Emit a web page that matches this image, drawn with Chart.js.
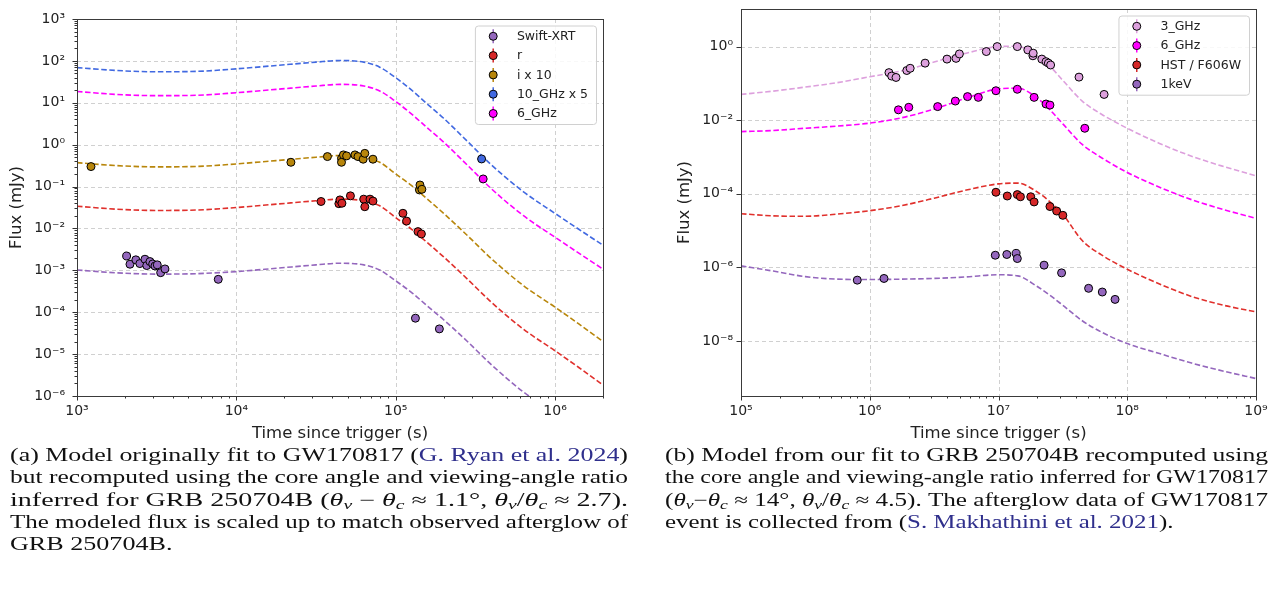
<!DOCTYPE html>
<html>
<head>
<meta charset="utf-8">
<script src="https://cdn.jsdelivr.net/npm/chart.js@4.4.1/dist/chart.umd.min.js"></script>
<style>
    html, body { margin: 0; padding: 0; background: #fff; }
    body { width: 1278px; height: 598px; position: relative; overflow: hidden; }
    #graficoIzq { position: absolute; left: 0; top: 0; }
    #graficoDer { position: absolute; left: 640px; top: 0; }
    .caption { position: absolute; top: 444px; font-family: 'Liberation Serif', serif; font-size: 18px; line-height: 22.3px; color: #111; }
    .caption .l { width: max-content; white-space: nowrap; transform-origin: 0 0; }
    .cite { color: #2f2f8c; }
    sub { font-size: 70%; vertical-align: -0.22em; line-height: 0; }
</style>
</head>
<body>
<canvas id="graficoIzq" width="640" height="450"></canvas>
<canvas id="graficoDer" width="638" height="450"></canvas>

<div class="caption" style="left:10px" data-ancho="618">
    <div class="l">(a) Model originally fit to GW170817 (<span class="cite">G. Ryan et al. 2024</span>)</div>
    <div class="l">but recomputed using the core angle and viewing-angle ratio</div>
    <div class="l">inferred for GRB 250704B (<i>θ</i><sub><i>v</i></sub> − <i>θ</i><sub><i>c</i></sub> ≈ 1.1°, <i>θ</i><sub><i>v</i></sub>/<i>θ</i><sub><i>c</i></sub> ≈ 2.7).</div>
    <div class="l">The modeled flux is scaled up to match observed afterglow of</div>
    <div class="l last">GRB 250704B.</div>
</div>
<div class="caption" style="left:665px" data-ancho="603">
    <div class="l">(b) Model from our fit to GRB 250704B recomputed using</div>
    <div class="l">the core angle and viewing-angle ratio inferred for GW170817</div>
    <div class="l">(<i>θ</i><sub><i>v</i></sub>−<i>θ</i><sub><i>c</i></sub> ≈ 14°, <i>θ</i><sub><i>v</i></sub>/<i>θ</i><sub><i>c</i></sub> ≈ 4.5). The afterglow data of GW170817</div>
    <div class="l last">event is collected from (<span class="cite">S. Makhathini et al. 2021</span>).</div>
</div>

<script>
// ---- Panel (a): modelo de GW170817 escalado a GRB 250704B ----
const tiempoModeloIzq = [1e3, 1.78e3, 3.16e3, 5.62e3, 1e4, 1.78e4, 3.16e4, 4.47e4, 6.31e4, 7.94e4,
                         1e5, 1.26e5, 1.58e5, 2e5, 2.82e5, 3.98e5, 6.31e5, 1e6, 1.41e6, 2e6];
const modeloXrt = [1.02e-3, 8.71e-4, 8.13e-4, 8.32e-4, 9.33e-4, 1.12e-3, 1.35e-3, 1.48e-3, 1.35e-3, 1.02e-3,
                   5.62e-4, 2.95e-4, 1.41e-4, 6.61e-5, 2.0e-5, 5.62e-6, 1.26e-6, 3.8e-7, 1.51e-7, 5.75e-8];
const modeloR = [0.0339, 0.0288, 0.0269, 0.0275, 0.0316, 0.0380, 0.0457, 0.0501, 0.0457, 0.0347,
                 0.0182, 0.00955, 0.00457, 0.00209, 6.17e-4, 1.74e-4, 3.98e-5, 1.20e-5, 4.79e-6, 1.82e-6];
const modeloI = [0.372, 0.316, 0.295, 0.302, 0.347, 0.417, 0.501, 0.550, 0.501, 0.380,
                 0.200, 0.105, 0.0501, 0.0229, 0.00676, 0.00191, 4.37e-4, 1.32e-4, 5.25e-5, 2.0e-5];
const modelo10GHz = [69.2, 58.9, 55.0, 56.2, 64.6, 77.6, 93.3, 102, 93.3, 70.8,
                     39.8, 20.0, 9.33, 4.27, 1.20, 0.331, 0.0759, 0.0229, 0.00955, 0.00398];
const modelo6GHzIzq = [18.6, 15.8, 14.8, 15.1, 17.4, 20.9, 25.1, 27.5, 25.1, 19.1,
                       10.7, 5.37, 2.51, 1.15, 0.324, 0.0891, 0.0204, 0.00617, 0.00257, 0.00107];

// Observaciones de GRB 250704B
const xrtT = [2050, 2150, 2340, 2480, 2670, 2740, 2870, 2985, 3085, 3190, 3350, 3565, 7700, 1.33e5, 1.88e5];
const xrtF = [2.2e-3, 1.4e-3, 1.78e-3, 1.45e-3, 1.84e-3, 1.3e-3, 1.62e-3, 1.42e-3, 1.27e-3, 1.35e-3, 8.8e-4, 1.08e-3, 6.1e-4, 7.2e-5, 4.0e-5];
const rT = [3.4e4, 4.4e4, 4.47e4, 4.6e4, 5.2e4, 6.3e4, 6.4e4, 6.9e4, 7.2e4, 1.11e5, 1.17e5, 1.38e5, 1.45e5];
const rF = [4.4e-2, 3.9e-2, 4.8e-2, 4.0e-2, 6.0e-2, 5.0e-2, 3.3e-2, 5.0e-2, 4.5e-2, 2.3e-2, 1.5e-2, 8.4e-3, 7.4e-3];
const iT = [1224, 2.2e4, 3.73e4, 4.57e4, 4.57e4, 4.7e4, 4.92e4, 5.55e4, 5.8e4, 6.25e4, 6.4e4, 7.2e4, 1.41e5, 1.42e5, 1.46e5];
const iF = [0.30, 0.38, 0.52, 0.47, 0.38, 0.57, 0.54, 0.57, 0.52, 0.45, 0.62, 0.45, 0.083, 0.109, 0.086];
const ghz10T = [3.46e5];
const ghz10F = [0.456];
const ghz6IzqT = [3.54e5];
const ghz6IzqF = [0.152];

// ---- Panel (b): modelo de GRB 250704B con geometría de GW170817 ----
const tiempoModeloDer = [1e5, 1.78e5, 3.16e5, 5.62e5, 1e6, 1.78e6, 3.16e6, 5.62e6, 1e7, 1.41e7,
                         2e7, 2.51e7, 3.16e7, 4.47e7, 6.31e7, 1e8, 1.78e8, 3.16e8, 5.62e8, 1e9];
const modelo3GHz = [0.0501, 0.0617, 0.0794, 0.105, 0.151, 0.219, 0.380, 0.661, 1.0, 1.02,
                    0.525, 0.288, 0.120, 0.0331, 0.0145, 0.00603, 0.00234, 0.00105, 5.5e-4, 3.09e-4];
const modelo6GHzDer = [0.0049, 0.00525, 0.00603, 0.00692, 0.00832, 0.0117, 0.0200, 0.0398, 0.0708, 0.0741,
                       0.0398, 0.0191, 0.00794, 0.00219, 9.55e-4, 3.8e-4, 1.51e-4, 6.92e-5, 3.72e-5, 2.14e-5];
const modeloHst = [2.88e-5, 2.51e-5, 2.45e-5, 2.82e-5, 3.47e-5, 4.79e-5, 7.59e-5, 1.26e-4, 1.86e-4, 1.95e-4,
                   1.12e-4, 6.03e-5, 2.75e-5, 5.37e-6, 2.19e-6, 8.91e-7, 3.55e-7, 1.62e-7, 9.33e-8, 6.17e-8];
const modelo1keV = [1.1e-6, 7.94e-7, 5.62e-7, 4.79e-7, 4.68e-7, 4.79e-7, 5.01e-7, 5.5e-7, 6.31e-7, 5.89e-7,
                    3.02e-7, 1.74e-7, 9.33e-8, 3.55e-8, 1.74e-8, 8.51e-9, 4.57e-9, 2.51e-9, 1.51e-9, 9.55e-10];

// Observaciones de GW170817
const ghz3T = [1.41e6, 1.48e6, 1.60e6, 1.94e6, 2.06e6, 2.69e6, 3.98e6, 4.68e6, 4.97e6, 8.04e6, 9.77e6,
               1.40e7, 1.69e7, 1.85e7, 1.86e7, 2.17e7, 2.34e7, 2.44e7, 2.54e7, 4.22e7, 6.61e7];
const ghz3F = [0.196, 0.158, 0.145, 0.224, 0.257, 0.355, 0.457, 0.479, 0.631, 0.733, 1.0,
               1.0, 0.813, 0.562, 0.661, 0.457, 0.389, 0.355, 0.316, 0.148, 0.0501];
const ghz6DerT = [1.67e6, 2.01e6, 3.37e6, 4.62e6, 5.75e6, 6.97e6, 9.55e6, 1.40e7, 1.89e7, 2.34e7, 2.51e7, 4.68e7];
const ghz6DerF = [0.0191, 0.0224, 0.0234, 0.0331, 0.0437, 0.0417, 0.0631, 0.0692, 0.0417, 0.0275, 0.0257, 0.00603];
const hstT = [9.55e6, 1.17e7, 1.40e7, 1.48e7, 1.78e7, 1.89e7, 2.51e7, 2.83e7, 3.16e7];
const hstF = [1.1e-4, 8.7e-5, 9.5e-5, 8.3e-5, 8.3e-5, 6.0e-5, 4.5e-5, 3.4e-5, 2.6e-5];
const kevT = [8.0e5, 1.29e6, 9.44e6, 1.16e7, 1.37e7, 1.40e7, 2.26e7, 3.09e7, 5.01e7, 6.4e7, 8.04e7];
const kevF = [4.5e-7, 5.0e-7, 2.14e-6, 2.24e-6, 2.4e-6, 1.74e-6, 1.15e-6, 7.1e-7, 2.7e-7, 2.14e-7, 1.35e-7];

// Marcas de los ejes
const ticksIzqX = [1e3, 1e4, 1e5, 1e6];
const ticksIzqY = [1e-6, 1e-5, 1e-4, 1e-3, 1e-2, 1e-1, 1e0, 1e1, 1e2, 1e3];
const ticksDerX = [1e5, 1e6, 1e7, 1e8, 1e9];
const ticksDerY = [1e-8, 1e-6, 1e-4, 1e-2, 1e0];

const COLORES = {
    morado: '#9467bd', rojo: '#d62728', dorado: '#b8860b',
    azul: '#4169e1', magenta: '#ff00ff', ciruela: '#dda0dd'
};

Chart.defaults.font.family = "'DejaVu Sans', sans-serif";
Chart.defaults.color = '#222';

const superindices = { '-': '⁻', '0': '⁰', '1': '¹', '2': '²', '3': '³', '4': '⁴', '5': '⁵', '6': '⁶', '7': '⁷', '8': '⁸', '9': '⁹' };

function etiquetaPotencia(valor) {
    const exp = Math.round(Math.log10(valor));
    if (Math.abs(Math.log10(valor) - exp) > 1e-6) return '';
    return '10' + String(exp).split('').map(c => superindices[c]).join('');
}

// Marcas menores 2..9 x 10^d dentro del rango
function marcasMenores(dIni, dFin, tope) {
    const lista = [];
    for (let d = dIni; d <= dFin; d++) {
        for (let m = 2; m <= 9; m++) {
            const v = m * Math.pow(10, d);
            if (v <= tope) lista.push(v);
        }
    }
    return lista;
}

function puntos(t, f) {
    return t.map((x, i) => ({ x: x, y: f[i] }));
}

function serieObs(etiqueta, t, f, color) {
    return {
        label: etiqueta,
        data: puntos(t, f),
        showLine: false,
        pointRadius: 4,
        pointHoverRadius: 4,
        pointBorderWidth: 1,
        pointBorderColor: '#000',
        pointBackgroundColor: color
    };
}

function serieModelo(t, f, color) {
    return {
        label: '',
        data: puntos(t, f),
        showLine: true,
        pointRadius: 0,
        borderColor: color,
        borderWidth: 1.6,
        borderDash: [5.5, 2.6],
        cubicInterpolationMode: 'monotone',
        fill: false
    };
}

// Rejilla discontinua, marcas y marco al estilo matplotlib
const ejesMatplotlib = {
    id: 'ejesMatplotlib',
    beforeDatasetsDraw(chart, args, opc) {
        const { ctx, chartArea: a } = chart;
        const x = chart.scales.x, y = chart.scales.y;
        ctx.save();
        ctx.beginPath();
        ctx.strokeStyle = 'rgba(190,190,190,0.8)';
        ctx.lineWidth = 0.9;
        ctx.setLineDash([4, 3]);
        opc.rejillaX.forEach(v => {
            const p = Math.round(x.getPixelForValue(v)) + 0.5;
            ctx.moveTo(p, a.top); ctx.lineTo(p, a.bottom);
        });
        opc.rejillaY.forEach(v => {
            const p = Math.round(y.getPixelForValue(v)) + 0.5;
            ctx.moveTo(a.left, p); ctx.lineTo(a.right, p);
        });
        ctx.stroke();
        ctx.restore();
    },
    afterDatasetsDraw(chart, args, opc) {
        const { ctx, chartArea: a } = chart;
        const x = chart.scales.x, y = chart.scales.y;
        ctx.save();
        ctx.setLineDash([]);
        ctx.strokeStyle = '#333';
        ctx.lineWidth = 1;
        ctx.beginPath();
        const marcaX = (v, largo) => {
            const p = Math.round(x.getPixelForValue(v)) + 0.5;
            ctx.moveTo(p, a.bottom); ctx.lineTo(p, a.bottom + largo);
        };
        const marcaY = (v, largo) => {
            const p = Math.round(y.getPixelForValue(v)) + 0.5;
            ctx.moveTo(a.left, p); ctx.lineTo(a.left - largo, p);
        };
        opc.mayoresX.forEach(v => marcaX(v, 4.5));
        opc.menoresX.forEach(v => marcaX(v, 2.5));
        opc.mayoresY.forEach(v => marcaY(v, 4.5));
        opc.menoresY.forEach(v => marcaY(v, 2.5));
        ctx.stroke();
        ctx.strokeStyle = '#3a3a3a';
        ctx.strokeRect(Math.round(a.left) + 0.5, Math.round(a.top) + 0.5,
                       Math.round(a.right - a.left), Math.round(a.bottom - a.top));
        ctx.restore();
    }
};

// Leyenda dentro del área del gráfico, arriba a la derecha
const leyendaInterna = {
    id: 'leyendaInterna',
    afterDraw(chart, args, opc) {
        const { ctx, chartArea: a } = chart;
        ctx.save();
        ctx.font = "12.5px 'DejaVu Sans'";
        const anchoTexto = Math.max(...opc.entradas.map(e => ctx.measureText(e.texto).width));
        const ancho = 42 + anchoTexto + 8;
        const alto = 2 + opc.entradas.length * 19.3;
        const x0 = a.right - 7 - ancho;
        const y0 = a.top + 6.5;
        ctx.beginPath();
        ctx.roundRect(x0 + 0.5, y0 + 0.5, ancho, alto, 3);
        ctx.fillStyle = 'rgba(255,255,255,0.85)';
        ctx.fill();
        ctx.strokeStyle = '#d0d0d0';
        ctx.lineWidth = 1;
        ctx.stroke();
        opc.entradas.forEach((e, i) => {
            const cy = y0 + 10.8 + i * 19.3;
            const cx = x0 + 18.3;
            ctx.beginPath();
            ctx.strokeStyle = e.color;
            ctx.lineWidth = 1.5;
            ctx.moveTo(cx, cy - 7); ctx.lineTo(cx, cy + 7);
            ctx.stroke();
            ctx.beginPath();
            ctx.arc(cx, cy, 4, 0, Math.PI * 2);
            ctx.fillStyle = e.color;
            ctx.fill();
            ctx.strokeStyle = '#000';
            ctx.lineWidth = 1;
            ctx.stroke();
            ctx.fillStyle = '#222';
            ctx.textBaseline = 'middle';
            ctx.fillText(e.texto, x0 + 42, cy + 0.5);
        });
        ctx.restore();
    }
};

function crearGrafico(idCanvas, conf) {
    const ctx = document.getElementById(idCanvas).getContext('2d');
    return new Chart(ctx, {
        type: 'scatter',
        data: { datasets: conf.series },
        options: {
            responsive: false,
            animation: false,
            layout: { padding: conf.relleno },
            plugins: {
                legend: { display: false },
                tooltip: { enabled: false },
                ejesMatplotlib: conf.ejes,
                leyendaInterna: { entradas: conf.leyenda }
            },
            scales: {
                x: {
                    type: 'logarithmic',
                    min: conf.xMin, max: conf.xMax,
                    grid: { display: false, drawTicks: false },
                    border: { display: false },
                    ticks: { autoSkip: false, maxRotation: 0, padding: 7, font: { size: 14 }, callback: etiquetaPotencia },
                    title: { display: true, text: 'Time since trigger (s)', font: { size: 16.5 }, padding: { top: 0, bottom: 6 } },
                    afterBuildTicks: s => { s.ticks = conf.ticksX.map(v => ({ value: v })); },
                    afterFit: s => { s.height = 54; s.paddingLeft = 0; s.paddingRight = 0; }
                },
                y: {
                    type: 'logarithmic',
                    min: conf.yMin, max: conf.yMax,
                    grid: { display: false, drawTicks: false },
                    border: { display: false },
                    ticks: { autoSkip: false, padding: conf.rellenoTicksY, font: { size: 14 }, callback: etiquetaPotencia },
                    title: { display: true, text: 'Flux (mJy)', font: { size: 16.5 }, padding: { top: conf.rellenoTituloY, bottom: 0 } },
                    afterBuildTicks: s => { s.ticks = conf.ticksY.map(v => ({ value: v })); },
                    afterFit: s => { s.width = conf.anchoEjeY; s.paddingTop = 0; s.paddingBottom = 0; }
                }
            }
        },
        plugins: [ejesMatplotlib, leyendaInterna]
    });
}

crearGrafico('graficoIzq', {
    series: [
        serieObs('Swift-XRT', xrtT, xrtF, COLORES.morado),
        serieObs('r', rT, rF, COLORES.rojo),
        serieObs('i x 10', iT, iF, COLORES.dorado),
        serieObs('10_GHz x 5', ghz10T, ghz10F, COLORES.azul),
        serieObs('6_GHz', ghz6IzqT, ghz6IzqF, COLORES.magenta),
        serieModelo(tiempoModeloIzq, modeloXrt, COLORES.morado),
        serieModelo(tiempoModeloIzq, modeloR, '#e0302c'),
        serieModelo(tiempoModeloIzq, modeloI, COLORES.dorado),
        serieModelo(tiempoModeloIzq, modelo10GHz, COLORES.azul),
        serieModelo(tiempoModeloIzq, modelo6GHzIzq, COLORES.magenta)
    ],
    relleno: { left: 0, top: 19, right: 37, bottom: 0 },
    xMin: 1e3, xMax: 2e6, yMin: 1e-6, yMax: 1e3,
    ticksX: ticksIzqX, ticksY: ticksIzqY,
    anchoEjeY: 77, rellenoTicksY: 12, rellenoTituloY: 7,
    ejes: {
        rejillaX: [1e4, 1e5, 1e6],
        rejillaY: ticksIzqY.slice(1, -1),
        mayoresX: ticksIzqX, menoresX: marcasMenores(3, 6, 2e6),
        mayoresY: ticksIzqY, menoresY: marcasMenores(-6, 2, 1e3)
    },
    leyenda: [
        { texto: 'Swift-XRT', color: COLORES.morado },
        { texto: 'r', color: COLORES.rojo },
        { texto: 'i x 10', color: COLORES.dorado },
        { texto: '10_GHz x 5', color: COLORES.azul },
        { texto: '6_GHz', color: COLORES.magenta }
    ]
});

crearGrafico('graficoDer', {
    series: [
        serieObs('3_GHz', ghz3T, ghz3F, COLORES.ciruela),
        serieObs('6_GHz', ghz6DerT, ghz6DerF, COLORES.magenta),
        serieObs('HST / F606W', hstT, hstF, COLORES.rojo),
        serieObs('1keV', kevT, kevF, COLORES.morado),
        serieModelo(tiempoModeloDer, modelo3GHz, COLORES.ciruela),
        serieModelo(tiempoModeloDer, modelo6GHzDer, COLORES.magenta),
        serieModelo(tiempoModeloDer, modeloHst, '#e0302c'),
        serieModelo(tiempoModeloDer, modelo1keV, COLORES.morado)
    ],
    relleno: { left: 0, top: 9, right: 22, bottom: 0 },
    xMin: 1e5, xMax: 1e9, yMin: 3.2e-10, yMax: 10.5,
    ticksX: ticksDerX, ticksY: ticksDerY,
    anchoEjeY: 101, rellenoTicksY: 8, rellenoTituloY: 35,
    ejes: {
        rejillaX: [1e6, 1e7, 1e8],
        rejillaY: ticksDerY,
        mayoresX: ticksDerX, menoresX: marcasMenores(5, 8, 1e9),
        mayoresY: ticksDerY, menoresY: []
    },
    leyenda: [
        { texto: '3_GHz', color: COLORES.ciruela },
        { texto: '6_GHz', color: COLORES.magenta },
        { texto: 'HST / F606W', color: COLORES.rojo },
        { texto: '1keV', color: COLORES.morado }
    ]
});

// Ajustar cada línea del pie al ancho de columna
function ajustarPies() {
    document.querySelectorAll('.caption').forEach(pie => {
        const ancho = parseFloat(pie.dataset.ancho);
        const lineas = [...pie.querySelectorAll('.l')];
        const factores = [];
        lineas.forEach(l => {
            const w = l.getBoundingClientRect().width;
            l.dataset.w = w;
            if (!l.classList.contains('last')) factores.push(ancho / w);
        });
        const medio = factores.reduce((s, k) => s + k, 0) / factores.length;
        lineas.forEach(l => {
            const k = l.classList.contains('last') ? medio : ancho / parseFloat(l.dataset.w);
            l.style.transform = 'scaleX(' + k + ')';
        });
    });
}
if (document.fonts && document.fonts.ready) {
    document.fonts.ready.then(ajustarPies);
} else {
    ajustarPies();
}
</script>
</body>
</html>
